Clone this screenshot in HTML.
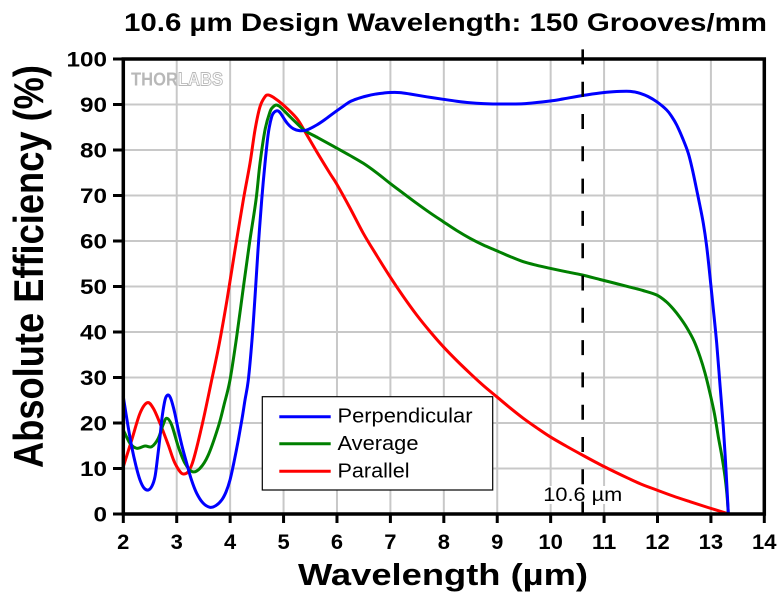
<!DOCTYPE html>
<html>
<head>
<meta charset="utf-8">
<style>
  html, body { margin:0; padding:0; background:#ffffff; }
  svg { display:block; }
  text { font-family: "Liberation Sans", Arial, sans-serif; fill:#000; }
</style>
</head>
<body>
<svg id="chart" width="780" height="597" viewBox="0 0 780 597" xmlns="http://www.w3.org/2000/svg">
  <rect x="0" y="0" width="780" height="597" fill="#ffffff"/>

  <!-- Title -->
  <text x="124" y="31" font-size="25" font-weight="bold" textLength="643" lengthAdjust="spacingAndGlyphs">10.6 µm Design Wavelength: 150 Grooves/mm</text>

  <!-- gridlines -->
  <g stroke="#c8c8c8" stroke-width="2" fill="none">
    <line x1="176.72" y1="59" x2="176.72" y2="514"/>
    <line x1="230.14" y1="59" x2="230.14" y2="514"/>
    <line x1="283.56" y1="59" x2="283.56" y2="514"/>
    <line x1="336.98" y1="59" x2="336.98" y2="514"/>
    <line x1="390.4" y1="59" x2="390.4" y2="514"/>
    <line x1="443.82" y1="59" x2="443.82" y2="514"/>
    <line x1="497.24" y1="59" x2="497.24" y2="514"/>
    <line x1="550.66" y1="59" x2="550.66" y2="514"/>
    <line x1="604.08" y1="59" x2="604.08" y2="514"/>
    <line x1="657.5" y1="59" x2="657.5" y2="514"/>
    <line x1="710.92" y1="59" x2="710.92" y2="514"/>
    <line x1="123.3" y1="468.5" x2="764.3" y2="468.5"/>
    <line x1="123.3" y1="423" x2="764.3" y2="423"/>
    <line x1="123.3" y1="377.5" x2="764.3" y2="377.5"/>
    <line x1="123.3" y1="332" x2="764.3" y2="332"/>
    <line x1="123.3" y1="286.5" x2="764.3" y2="286.5"/>
    <line x1="123.3" y1="241" x2="764.3" y2="241"/>
    <line x1="123.3" y1="195.5" x2="764.3" y2="195.5"/>
    <line x1="123.3" y1="150" x2="764.3" y2="150"/>
    <line x1="123.3" y1="104.5" x2="764.3" y2="104.5"/>
  </g>

  <!-- THORLABS logo -->
  <text x="131" y="85.5" font-size="18" font-weight="bold" textLength="92" lengthAdjust="spacingAndGlyphs"><tspan fill="#b8b8b8">THOR</tspan><tspan fill="#ffffff" stroke="#b8b8b8" stroke-width="0.9">LABS</tspan></text>

  <!-- 10.6 um label -->
  <rect x="542" y="486" width="82" height="18" fill="#ffffff"/>
  <text x="543.3" y="501" font-size="19" textLength="79" lengthAdjust="spacingAndGlyphs">10.6 µm</text>

  <!-- curves -->
  <g fill="none" stroke-width="3" stroke-linejoin="round" stroke-linecap="round">
    <!-- Red / Parallel -->
    <polyline class="smooth" stroke="#ff0000" points="123.3,466.7 131.7,440 140,413.3 147.3,402.7 153.3,408.3 160,423.3 168.3,445 175,463.3 183.3,474 191.7,465 201.7,426.7 211.7,380 219,345 227,300 235,250 243.3,200 250,163.3 255,130 260,106.7 265,96.7 268.3,95 273.3,97.3 283.3,105 296.7,118.3 305,131.7 316.7,151.7 330,173.5 336.7,184 350,208 363.3,233.3 376.7,255.5 390,276.7 403.3,296.5 416.7,315 430,331.5 443.3,346.7 456.7,360.5 470,373.3 483.3,385.5 496.7,396.7 510,407.8 523.3,418.3 536.7,427.8 550,436.7 566,446 582.3,455 600,464.5 614,471.5 628.3,478.3 642,484.5 656.7,490 673,496 690,501.7 708,507.5 726.7,513.3"/>
    <!-- Green / Average -->
    <polyline class="smooth" stroke="#008000" points="123.3,430 130,443.3 136.7,448.3 145,446 151.7,446.7 158.3,438.3 163,425 166.7,418.3 171.7,425 178.3,446.7 185,463.3 192.3,471.7 200,468.3 208.3,455 218.3,426.7 224,405 230,380 236.5,338 243,290 249.5,243 256,200 260,163.3 265,130 270,111.7 273,107 276,105 279,106 281.7,108.3 290,116.7 297,123.5 305,130.7 318,137.8 333.3,146.2 350,155.5 363.3,163.3 376.7,172.8 390,183.3 403.3,193.3 416.7,203.3 430,212.8 443.3,221.7 456.7,230.5 470,238.3 483.3,245 496.7,250.7 510,256.5 523.3,261.7 536.7,265.3 550,268.3 566,271.7 582.3,275 600,279.5 614,283 628.3,286.7 643,290.5 656.7,295 666,301.5 673.3,309 680,317.5 686.7,327.5 694,341 700,356.7 705,373 710,393.3 714.5,414 718.3,436.7 722,457 725,476.7 727,495 728.3,513.3"/>
    <!-- Blue / Perpendicular -->
    <polyline class="smooth" stroke="#0000ff" points="123.3,396.7 127.5,423 131.7,446.7 136,466 140,480 144,488 148.3,490 152,486 155,476.7 157.5,458 160,436.7 162,418 164.3,403.3 166,397 168.3,395 170.3,397.5 172.3,403.3 175,414 178.3,430 182,446 186.7,463.3 191.5,480 196.7,493.3 203,503 210,507.3 216,505.5 221.7,500 226,492 230,480 234,462 238.3,440 242,419 245,400 248.3,380 252,340 255,297 258,250 261.7,200 265,163.3 268.3,133.3 271.7,116.7 274.5,112 277.3,110.7 279.5,112 281.7,115 287.3,123.3 293.3,128.7 300,130.7 306.7,130 316.7,125 325,119.5 333.3,113.3 341.7,107.3 350,101.7 358,98.5 366.7,96 375,94.2 383.3,93.1 390,92.5 400,92.6 410,94 426.7,96.8 443.3,99.3 456.7,101.2 470,102.7 483.3,103.6 496.7,104 510,104 523.3,103.7 536.7,102.5 550,101 560,99.5 566.7,98.3 582.7,95.5 600,93 613,91.8 626.7,91.3 634,91.9 640,93.3 648,96.5 656.7,101.7 666.7,110 672,117 676.7,125 682.5,138 688.3,153.3 692.5,170 696.7,190 700,206 703.3,223.3 706.5,245 709.3,270 713,306 716.7,343.3 720,385 723.3,426.7 726,470 728.3,513.3"/>
  </g>

  <!-- dashed 10.6 um line -->
  <line x1="582.7" y1="49.4" x2="582.7" y2="514" stroke="#000" stroke-width="2.6" stroke-dasharray="15 17.3"/>

  <!-- legend -->
  <rect x="262.3" y="396.7" width="230.4" height="93.3" fill="#ffffff" stroke="#000" stroke-width="1.2"/>
  <line x1="279.3" y1="416.7" x2="330.7" y2="416.7" stroke="#0000ff" stroke-width="3"/>
  <line x1="279.3" y1="443.7" x2="330.7" y2="443.7" stroke="#008000" stroke-width="3"/>
  <line x1="279.3" y1="471.3" x2="330.7" y2="471.3" stroke="#ff0000" stroke-width="3"/>
  <text x="337.5" y="422.5" font-size="20" textLength="135" lengthAdjust="spacingAndGlyphs">Perpendicular</text>
  <text x="337.5" y="450" font-size="20" textLength="81" lengthAdjust="spacingAndGlyphs">Average</text>
  <text x="337.5" y="477.5" font-size="20" textLength="72" lengthAdjust="spacingAndGlyphs">Parallel</text>

  <!-- frame -->
  <rect x="123.3" y="59" width="641" height="455" fill="none" stroke="#000" stroke-width="3.5"/>

  <!-- ticks -->
  <g stroke="#000" stroke-width="3">
    <line x1="113" y1="514" x2="123.3" y2="514"/>
    <line x1="113" y1="468.5" x2="123.3" y2="468.5"/>
    <line x1="113" y1="423" x2="123.3" y2="423"/>
    <line x1="113" y1="377.5" x2="123.3" y2="377.5"/>
    <line x1="113" y1="332" x2="123.3" y2="332"/>
    <line x1="113" y1="286.5" x2="123.3" y2="286.5"/>
    <line x1="113" y1="241" x2="123.3" y2="241"/>
    <line x1="113" y1="195.5" x2="123.3" y2="195.5"/>
    <line x1="113" y1="150" x2="123.3" y2="150"/>
    <line x1="113" y1="104.5" x2="123.3" y2="104.5"/>
    <line x1="113" y1="59" x2="123.3" y2="59"/>
    <line x1="123.3" y1="514" x2="123.3" y2="523"/>
    <line x1="176.72" y1="514" x2="176.72" y2="523"/>
    <line x1="230.14" y1="514" x2="230.14" y2="523"/>
    <line x1="283.56" y1="514" x2="283.56" y2="523"/>
    <line x1="336.98" y1="514" x2="336.98" y2="523"/>
    <line x1="390.4" y1="514" x2="390.4" y2="523"/>
    <line x1="443.82" y1="514" x2="443.82" y2="523"/>
    <line x1="497.24" y1="514" x2="497.24" y2="523"/>
    <line x1="550.66" y1="514" x2="550.66" y2="523"/>
    <line x1="604.08" y1="514" x2="604.08" y2="523"/>
    <line x1="657.5" y1="514" x2="657.5" y2="523"/>
    <line x1="710.92" y1="514" x2="710.92" y2="523"/>
    <line x1="764.3" y1="514" x2="764.3" y2="523"/>
  </g>

  <!-- y tick labels -->
  <g font-size="21" font-weight="bold" text-anchor="end">
    <text x="107" y="521.5" textLength="13.5" lengthAdjust="spacingAndGlyphs">0</text>
    <text x="107" y="476" textLength="27" lengthAdjust="spacingAndGlyphs">10</text>
    <text x="107" y="430.5" textLength="27" lengthAdjust="spacingAndGlyphs">20</text>
    <text x="107" y="385" textLength="27" lengthAdjust="spacingAndGlyphs">30</text>
    <text x="107" y="339.5" textLength="27" lengthAdjust="spacingAndGlyphs">40</text>
    <text x="107" y="294" textLength="27" lengthAdjust="spacingAndGlyphs">50</text>
    <text x="107" y="248.5" textLength="27" lengthAdjust="spacingAndGlyphs">60</text>
    <text x="107" y="203" textLength="27" lengthAdjust="spacingAndGlyphs">70</text>
    <text x="107" y="157.5" textLength="27" lengthAdjust="spacingAndGlyphs">80</text>
    <text x="107" y="112" textLength="27" lengthAdjust="spacingAndGlyphs">90</text>
    <text x="107" y="66.5" textLength="40.5" lengthAdjust="spacingAndGlyphs">100</text>
  </g>

  <!-- x tick labels -->
  <g font-size="21" font-weight="bold" text-anchor="middle">
    <text x="123.3" y="549" textLength="12.2" lengthAdjust="spacingAndGlyphs">2</text>
    <text x="176.72" y="549" textLength="12.2" lengthAdjust="spacingAndGlyphs">3</text>
    <text x="230.14" y="549" textLength="12.2" lengthAdjust="spacingAndGlyphs">4</text>
    <text x="283.56" y="549" textLength="12.2" lengthAdjust="spacingAndGlyphs">5</text>
    <text x="336.98" y="549" textLength="12.2" lengthAdjust="spacingAndGlyphs">6</text>
    <text x="390.4" y="549" textLength="12.2" lengthAdjust="spacingAndGlyphs">7</text>
    <text x="443.82" y="549" textLength="12.2" lengthAdjust="spacingAndGlyphs">8</text>
    <text x="497.24" y="549" textLength="12.2" lengthAdjust="spacingAndGlyphs">9</text>
    <text x="550.66" y="549" textLength="24.5" lengthAdjust="spacingAndGlyphs">10</text>
    <text x="604.08" y="549" textLength="24.5" lengthAdjust="spacingAndGlyphs">11</text>
    <text x="657.5" y="549" textLength="24.5" lengthAdjust="spacingAndGlyphs">12</text>
    <text x="710.92" y="549" textLength="24.5" lengthAdjust="spacingAndGlyphs">13</text>
    <text x="764.3" y="549" textLength="24.5" lengthAdjust="spacingAndGlyphs">14</text>
  </g>

  <!-- axis labels -->
  <text x="298" y="585" font-size="31" font-weight="bold" textLength="290" lengthAdjust="spacingAndGlyphs">Wavelength (µm)</text>
  <g transform="translate(43,468) scale(1.15,1) rotate(-90)">
    <text x="0" y="0" font-size="36" font-weight="bold" textLength="403" lengthAdjust="spacingAndGlyphs">Absolute Efficiency (%)</text>
  </g>
</svg>
<script>
(function(){
  try {
    var ns = "http://www.w3.org/2000/svg";
    var pls = document.querySelectorAll("polyline.smooth");
    for (var k = 0; k < pls.length; k++) {
      var pl = pls[k];
      var raw = pl.getAttribute("points").trim().split(/\s+/);
      var p = [];
      for (var i = 0; i < raw.length; i++) {
        var xy = raw[i].split(",");
        p.push([parseFloat(xy[0]), parseFloat(xy[1])]);
      }
      if (p.length < 3) continue;
      var d = "M" + p[0][0] + "," + p[0][1];
      for (var i = 0; i < p.length - 1; i++) {
        var p0 = p[i > 0 ? i - 1 : 0], p1 = p[i], p2 = p[i + 1], p3 = p[i + 2 < p.length ? i + 2 : p.length - 1];
        var c1x = p1[0] + (p2[0] - p0[0]) / 6, c1y = p1[1] + (p2[1] - p0[1]) / 6;
        var c2x = p2[0] - (p3[0] - p1[0]) / 6, c2y = p2[1] - (p3[1] - p1[1]) / 6;
        d += " C" + c1x.toFixed(2) + "," + c1y.toFixed(2) + " " + c2x.toFixed(2) + "," + c2y.toFixed(2) + " " + p2[0] + "," + p2[1];
      }
      var path = document.createElementNS(ns, "path");
      path.setAttribute("d", d);
      path.setAttribute("stroke", pl.getAttribute("stroke"));
      path.setAttribute("fill", "none");
      pl.parentNode.replaceChild(path, pl);
    }
  } catch (e) {}
})();
</script>
</body>
</html>
